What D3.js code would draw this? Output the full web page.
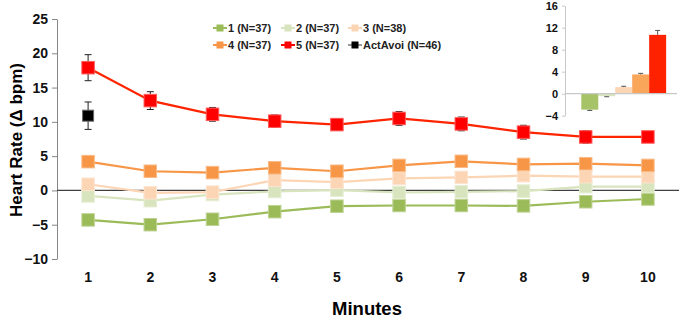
<!DOCTYPE html>
<html>
<head>
<meta charset="utf-8">
<script src="https://cdn.jsdelivr.net/npm/d3@7"></script>
<style>
  body { margin: 0; background: #fff; }
  svg { font-family: "Liberation Sans", Arial, sans-serif; font-weight: bold; }
</style>
</head>
<body>
<div id="chart"></div>
<script>
// data
const minutes = [1, 2, 3, 4, 5, 6, 7, 8, 9, 10];
const yTicks = [-10, -5, 0, 5, 10, 15, 20, 25];

const names = ["1 (N=37)", "2 (N=37)", "3 (N=38)", "4 (N=37)", "5 (N=37)"];
const colors = ["#9bbb59", "#d7e4bd", "#fcd5b5", "#f79646", "#ff0000"];
const lineColors = ["#9bbb59", "#d7e4bd", "#fcd5b5", "#f79646", "#ff2400"];

const s1 = [-4.3, -5.0, -4.2, -3.1, -2.3, -2.2, -2.2, -2.25, -1.65, -1.25];
const s2 = [-0.8, -1.5, -0.6, -0.15, 0.05, -0.3, -0.2, -0.1, 0.55, 0.55];
const s3 = [0.9, -0.35, -0.25, 1.5, 1.2, 1.75, 1.9, 2.15, 2.0, 2.0];
const s4 = [4.2, 2.8, 2.6, 3.3, 2.8, 3.65, 4.25, 3.8, 3.9, 3.65];
const s5 = [17.9, 13.1, 11.1, 10.1, 9.6, 10.5, 9.7, 8.5, 7.8, 7.8];

const e1 = [0.7, 0.4, 0.4, 0.4, 0.4, 0.4, 0.4, 0.4, 0.4, 0.4];
const e2 = [0.4, 0.4, 0.4, 0.4, 0.4, 0.4, 0.4, 0.4, 0.4, 0.4];
const e3 = [0.4, 0.4, 0.4, 0.4, 0.4, 0.4, 0.4, 0.4, 0.4, 0.4];
const e4 = [0.8, 0.4, 0.4, 0.4, 0.4, 0.4, 0.4, 0.4, 0.4, 0.4];
const e5 = [1.9, 1.3, 1.0, 0.9, 0.8, 1.0, 1.0, 1.0, 0.9, 0.5];

const actAvoi = { minute: 1, value: 10.9, err: 2.0, name: "ActAvoi (N=46)" };

// inset: mean over minutes per group
const insetValues = [-2.9, -0.45, 1.2, 3.5, 10.7];
const insetErr = [0.15, 0.1, 0.15, 0.2, 0.8];
const insetColors = ["#a6c367", "#d7e4bd", "#fcd5b5", "#f9a55a", "#ff2200"];
const insetTicks = [-4, 0, 4, 8, 12, 16];

const series = [s1, s2, s3, s4, s5];
const errs = [e1, e2, e3, e4, e5];

const width = 685, height = 323;

const svg = d3.select("#chart")
    .append("svg")
    .attr("width", width)
    .attr("height", height);

const x = d3.scaleBand()
    .domain(minutes)
    .range([57, 679]);

const y = d3.scaleLinear()
    .domain([-10, 25])
    .range([259, 19]);

// y axis
const yAxis = svg.append("g")
    .attr("transform", "translate(57,0)")
    .call(d3.axisLeft(y).tickValues(yTicks).tickSize(5).tickPadding(4).tickSizeOuter(0));
yAxis.select(".domain").attr("stroke", "#868686");
yAxis.selectAll(".tick line").attr("stroke", "#868686");
yAxis.selectAll("text")
    .attr("font-size", 14)
    .attr("font-weight", "bold")
    .attr("fill", "#111");

// x tick labels
const xAxis = svg.append("g")
    .attr("transform", "translate(0,272)")
    .call(d3.axisBottom(x).tickSize(0).tickPadding(0));
xAxis.select(".domain").remove();
xAxis.selectAll("text")
    .attr("font-size", 14)
    .attr("font-weight", "bold")
    .attr("fill", "#111");

// axis titles
svg.append("text")
    .attr("x", 367)
    .attr("y", 315)
    .attr("text-anchor", "middle")
    .attr("font-size", 18.5)
    .attr("fill", "#000")
    .text("Minutes");

svg.append("text")
    .attr("transform", "translate(22,140) rotate(-90)")
    .attr("text-anchor", "middle")
    .attr("font-size", 17)
    .attr("fill", "#000")
    .text("Heart Rate (\u0394 bpm)");

// zero line
svg.append("line")
    .attr("x1", x.range()[0])
    .attr("x2", x.range()[1])
    .attr("y1", y(0))
    .attr("y2", y(0))
    .attr("stroke", "#404040")
    .attr("stroke-width", 1.2);

const cx = m => x(m) + x.bandwidth() / 2;

const line = d3.line()
    .x((d, i) => cx(minutes[i]))
    .y(d => y(d));

const ms = 12.5; // marker size

series.forEach((vals, k) => {
    const g = svg.append("g");

    g.append("path")
        .attr("fill", "none")
        .attr("stroke", lineColors[k])
        .attr("stroke-width", 2.2)
        .attr("d", line(vals));

    // error bars
    const eb = g.selectAll(".err")
        .data(vals.map((v, i) => ({ m: minutes[i], v: v, e: errs[k][i] })))
        .join("g");
    eb.append("line")
        .attr("x1", d => cx(d.m)).attr("x2", d => cx(d.m))
        .attr("y1", d => y(d.v + d.e)).attr("y2", d => y(d.v - d.e))
        .attr("stroke", "#222").attr("stroke-width", 1);
    [1, -1].forEach(sg => {
        eb.append("line")
            .attr("x1", d => cx(d.m) - 3.5).attr("x2", d => cx(d.m) + 3.5)
            .attr("y1", d => y(d.v + sg * d.e)).attr("y2", d => y(d.v + sg * d.e))
            .attr("stroke", "#222").attr("stroke-width", 1);
    });

    g.selectAll("rect")
        .data(vals)
        .join("rect")
        .attr("x", (d, i) => cx(minutes[i]) - ms / 2)
        .attr("y", d => y(d) - ms / 2)
        .attr("width", ms)
        .attr("height", ms)
        .attr("fill", colors[k])
        .attr("stroke", d3.interpolateRgb(colors[k], "#fff")(0.35))
        .attr("stroke-width", 1);
});

// ActAvoi point
{
    const g = svg.append("g");
    const px = cx(actAvoi.minute);
    g.append("line")
        .attr("x1", px).attr("x2", px)
        .attr("y1", y(actAvoi.value + actAvoi.err)).attr("y2", y(actAvoi.value - actAvoi.err))
        .attr("stroke", "#222");
    [1, -1].forEach(sg => {
        g.append("line")
            .attr("x1", px - 3.5).attr("x2", px + 3.5)
            .attr("y1", y(actAvoi.value + sg * actAvoi.err)).attr("y2", y(actAvoi.value + sg * actAvoi.err))
            .attr("stroke", "#222");
    });
    g.append("rect")
        .attr("x", px - 5.5).attr("y", y(actAvoi.value) - 5.5)
        .attr("width", 11).attr("height", 11)
        .attr("fill", "#000")
        .attr("stroke", "#666").attr("stroke-width", 1);
}

// legend
const legendItems = names.map((n, i) => ({ name: n, color: colors[i] }))
    .concat([{ name: actAvoi.name, color: "#000" }]);
const legCols = [213, 281, 348];
const legRows = [28, 45];

const leg = svg.selectAll(".leg")
    .data(legendItems)
    .join("g")
    .attr("transform", (d, i) => `translate(${legCols[i % 3]},${legRows[Math.floor(i / 3)]})`);
leg.append("line")
    .attr("x1", 0).attr("x2", 14)
    .attr("stroke", d => d.color === "#000" ? "#999" : d.color)
    .attr("stroke-width", 2);
leg.append("rect")
    .attr("x", 3.5).attr("y", -3.5)
    .attr("width", 7).attr("height", 7)
    .attr("fill", d => d.color);
leg.append("text")
    .attr("x", 15)
    .attr("y", 4)
    .attr("font-size", 11)
    .attr("fill", "#222")
    .text(d => d.name);

// inset bar chart
const yi = d3.scaleLinear()
    .domain([-4, 16])
    .range([115.7, 5.7]);

const xi = d3.scaleBand()
    .domain(d3.range(insetValues.length))
    .range([565, 677])
    .paddingInner(0)
    .paddingOuter(0.8)
    .align(0.6);

const inset = svg.append("g");

const iAxis = inset.append("g")
    .attr("transform", "translate(565,0)")
    .call(d3.axisLeft(yi).tickValues(insetTicks).tickSize(3).tickPadding(4).tickSizeOuter(0));
iAxis.select(".domain").attr("stroke", "#c8c8c8");
iAxis.selectAll(".tick line").attr("stroke", "#c8c8c8");
iAxis.selectAll("text")
    .attr("font-size", 11)
    .attr("font-weight", "bold")
    .attr("fill", "#111");

inset.selectAll(".bar")
    .data(insetValues)
    .join("rect")
    .attr("x", (d, i) => xi(i))
    .attr("width", xi.bandwidth())
    .attr("y", d => yi(Math.max(0, d)))
    .attr("height", d => Math.abs(yi(d) - yi(0)))
    .attr("fill", (d, i) => insetColors[i]);

inset.append("line")
    .attr("x1", 565).attr("x2", 677)
    .attr("y1", yi(0)).attr("y2", yi(0))
    .attr("stroke", "#c8c8c8")
    .attr("stroke-width", 1.2);

const ie = inset.selectAll(".ierr")
    .data(insetValues.map((v, i) => ({ i: i, v: v, e: insetErr[i] })))
    .join("g");
ie.append("line")
    .attr("x1", d => xi(d.i) + xi.bandwidth() / 2).attr("x2", d => xi(d.i) + xi.bandwidth() / 2)
    .attr("y1", d => yi(d.v + Math.sign(d.v) * d.e)).attr("y2", d => yi(d.v))
    .attr("stroke", "#555");
ie.append("line")
    .attr("x1", d => xi(d.i) + xi.bandwidth() / 2 - 2.5).attr("x2", d => xi(d.i) + xi.bandwidth() / 2 + 2.5)
    .attr("y1", d => yi(d.v + Math.sign(d.v) * d.e)).attr("y2", d => yi(d.v + Math.sign(d.v) * d.e))
    .attr("stroke", "#555");
</script>
</body>
</html>
